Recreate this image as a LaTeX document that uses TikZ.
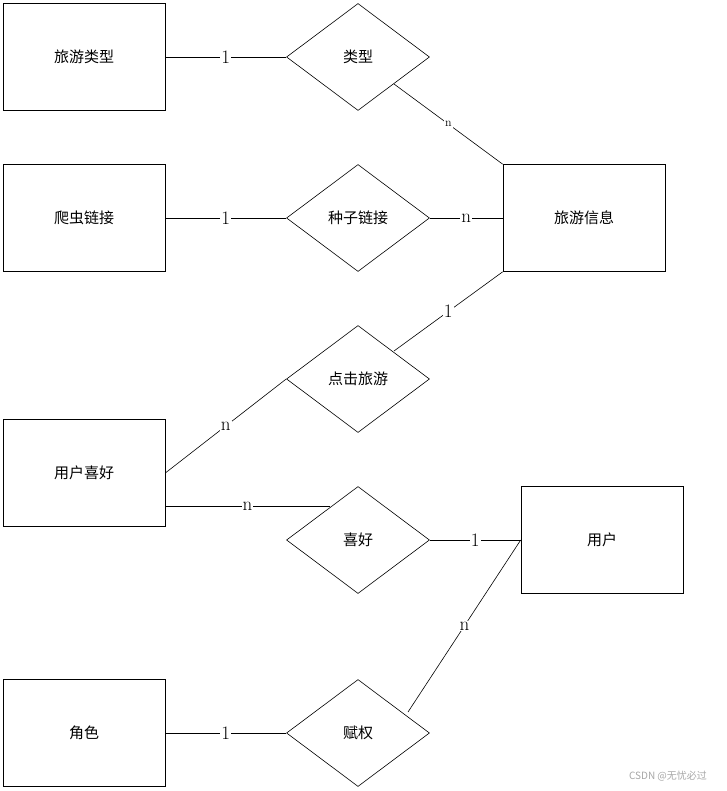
\documentclass[tikz,border=0pt]{standalone}
\usepackage{fontspec}
\newfontfamily\cjk{Noto Sans CJK SC}
\usetikzlibrary{shapes.geometric}
\begin{document}
\begin{tikzpicture}[x=1pt,y=-1pt,
 ent/.style={draw,minimum width=162pt,minimum height=107pt,inner sep=0pt,font=\cjk\fontsize{15}{17}\selectfont},
 rel/.style={draw,diamond,aspect=1.336,minimum width=143pt,minimum height=107pt,inner sep=0pt,font=\cjk\fontsize{15}{17}\selectfont},
 lab/.style={fill=white,inner sep=1pt,font=\fontsize{19}{19}\selectfont},
 every path/.style={line width=0.6pt}]
\useasboundingbox (0,0) rectangle (726,791);
\node[ent] (lylx) at (84,57) {旅游类型};
\node[ent] (pclj) at (84,218) {爬虫链接};
\node[ent] (lyxx) at (584,218) {旅游信息};
\node[ent] (yhxh) at (84,473) {用户喜好};
\node[ent] (yh) at (602,540) {用户};
\node[ent] (js) at (84,733) {角色};
\node[rel] (lx) at (358,57) {类型};
\node[rel] (zzlj) at (358,218) {种子链接};
\node[rel] (djly) at (358,379) {点击旅游};
\node[rel] (xh) at (358,540) {喜好};
\node[rel] (fq) at (358,733) {赋权};
\coordinate (a1) at (394,84);
\coordinate (a2) at (394,351);
\coordinate (a3) at (330,506);
\coordinate (a4) at (408,712);
\coordinate (b1) at (165,506);
\draw (lylx.east) -- node[lab]{1} (lx.west);
\draw (pclj.east) -- node[lab]{1} (zzlj.west);
\draw (zzlj.east) -- node[lab]{n} (lyxx.west);
\draw (a1) -- node[lab,font=\fontsize{12}{12}\selectfont]{n} (lyxx.north west);
\draw (a2) -- node[lab]{1} (lyxx.south west);
\draw (yhxh.east) -- node[lab]{n} (djly.west);
\draw (b1) -- node[lab]{n} (a3);
\draw (xh.east) -- node[lab]{1} (yh.west);
\draw (a4) -- node[lab]{n} (yh.west);
\draw (js.east) -- node[lab]{1} (fq.west);
\node[text=gray!70,font=\cjk\fontsize{10}{11}\selectfont] (wm) at (668,776) {CSDN @无忧必过};
\end{tikzpicture}
\end{document}
